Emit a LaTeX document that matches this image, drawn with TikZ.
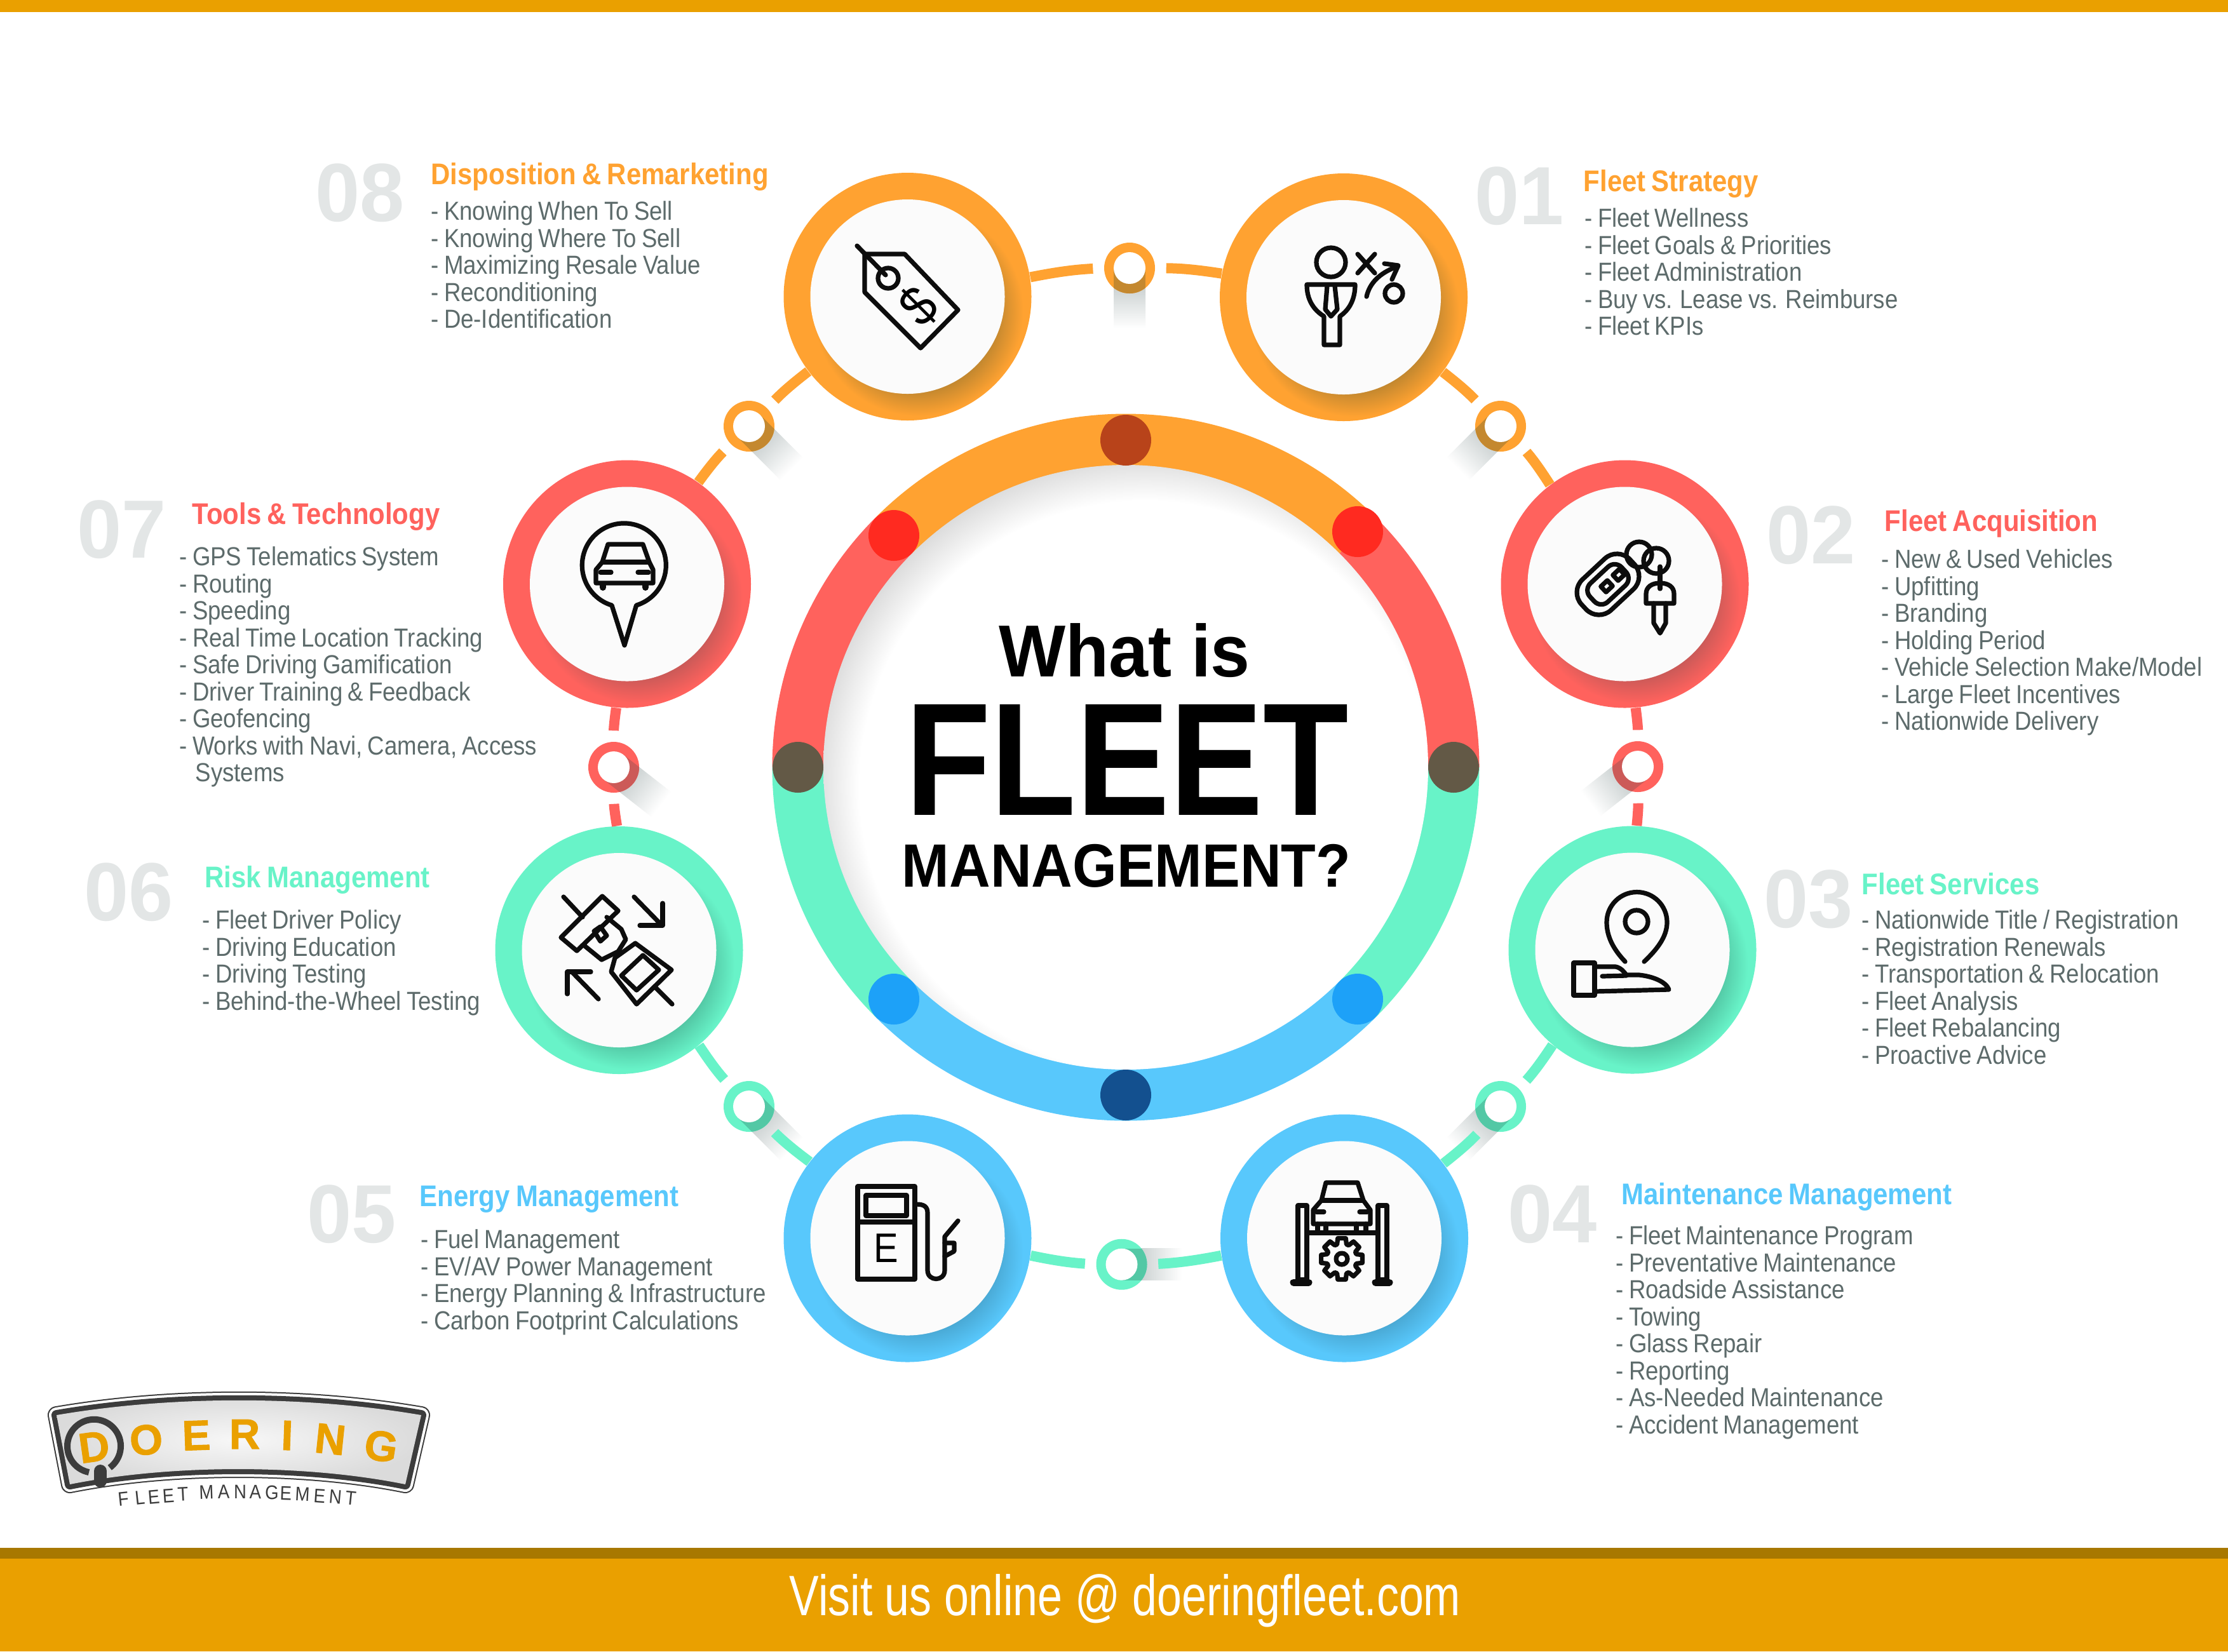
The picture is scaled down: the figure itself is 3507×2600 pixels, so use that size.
\documentclass[tikz,border=0pt]{standalone}
\usepackage{fontspec}
\setmainfont{Liberation Sans}[FakeStretch=0.89,WordSpace=0.8]
\newfontfamily\numfont{Liberation Sans}[FakeStretch=0.97]
\newfontfamily\whatfont{Liberation Sans}[FakeStretch=0.96]
\newfontfamily\fleetfont{Liberation Sans}[FakeStretch=0.87]
\newfontfamily\mgmtfont{Liberation Sans}[FakeStretch=0.93]
\newfontfamily\visitfont{Liberation Sans}[FakeStretch=0.78]
\newfontfamily\logofont{Liberation Sans}[FakeBold=1.5]
\usetikzlibrary{arrows.meta}

\definecolor{bandgold}{HTML}{EAA000}
\definecolor{banddark}{HTML}{A87800}
\definecolor{ringorange}{HTML}{FFA231}
\definecolor{ringcoral}{HTML}{FF625D}
\definecolor{ringteal}{HTML}{68F3C8}
\definecolor{ringblue}{HTML}{58C8FC}
\definecolor{darkorange}{HTML}{C4882F}
\definecolor{darkcoral}{HTML}{CC5A58}
\definecolor{darkteal}{HTML}{53C8A5}
\definecolor{darkblue}{HTML}{4AAAD6}
\definecolor{listgray}{HTML}{5D6B6B}
\definecolor{numgray}{HTML}{E3E6E6}
\definecolor{shadowgray}{HTML}{B4BDBD}
\definecolor{diskwhite}{HTML}{FBFBFB}
\definecolor{logodark}{HTML}{3C3C3C}

\pgfdeclareradialshading{hubshade}{\pgfpoint{0bp}{0bp}}{color(0bp)=(white);color(21.2bp)=(white);color(25bp)=(black!16);color(50bp)=(black!16)}
\pgfdeclareradialshading[ringc,ringd]{castshade}{\pgfpoint{0bp}{0bp}}{color(0bp)=(ringd);color(19bp)=(ringd);color(25bp)=(ringc);color(50bp)=(ringc)}
\colorlet{ringc}{ringorange}
\colorlet{ringd}{darkorange}

\tikzset{
  ringnode/.style={circle, minimum size=39mm, inner sep=0pt},
  linknode/.style={circle, minimum size=8mm, inner sep=0pt},
  linkshadow/.style={anchor=west, minimum width=9.5mm, minimum height=5mm, inner sep=0pt},
  linkline/.style={line width=1.6mm, bend left=4},
  hubarc/.style={line width=8.1mm},
  iconline/.style={line width=0.72mm, line cap=round, line join=round, black!95},
  numlabel/.style={anchor=west, inner sep=0pt, numgray, font=\numfont\fontsize{37}{37}\selectfont\bfseries},
  headlabel/.style={anchor=west, inner sep=0pt, font=\fontsize{13.4}{14}\selectfont\bfseries},
  listlabel/.style={anchor=north west, inner sep=0pt, align=left, listgray, font=\fontsize{11.7}{12.1}\selectfont},
  logoletter/.style={inner sep=0pt, bandgold, font=\logofont\fontsize{19}{19}\selectfont\bfseries},
}

\begin{document}
\begin{tikzpicture}[x=0.1mm,y=-0.1mm]
  \useasboundingbox (0,0) rectangle (3507,2600);
  \fill[white] (0,0) rectangle (3507,2600);

  % Bands
  \fill[bandgold] (0,0) rectangle (3507,19);
  \fill[banddark] (0,2437) rectangle (3507,2454);
  \fill[bandgold] (0,2454) rectangle (3507,2600);
  \node (visit) [anchor=base, white, inner sep=0pt, font=\visitfont\fontsize{25.5}{26}\selectfont] at (1771,2543) {Visit us online @ doeringfleet.com};

  % Hub ring
  \draw[hubarc, ringorange] (1772,1208) ++(225:516) arc (225:315:516);
  \draw[hubarc, ringcoral] (1772,1208) ++(315:516) arc (315:360:516);
  \draw[hubarc, ringteal] (1772,1208) ++(0:516) arc (0:45:516);
  \draw[hubarc, ringblue] (1772,1208) ++(45:516) arc (45:135:516);
  \draw[hubarc, ringteal] (1772,1208) ++(135:516) arc (135:180:516);
  \draw[hubarc, ringcoral] (1772,1208) ++(180:516) arc (180:225:516);
  \begin{scope}
    \clip (1772,1208) circle (476);
    \shade[shading=hubshade] (1802,1238) circle (530);
  \end{scope}
  \foreach \px/\py/\col in {1772/693/B8431A, 1407/843/FF2A20, 2137/837/FF2A20, 1256/1208/635946,
      2288/1208/635946, 1407/1573/1DA1F8, 2137/1573/1DA1F8, 1772/1724/13508F} {
    \definecolor{dotc}{HTML}{\col}
    \fill[dotc] (\px,\py) circle (40);
  }

  % Title
  \node (whatis) [anchor=base, inner sep=0pt, font=\whatfont\fontsize{33}{33}\selectfont\bfseries] at (1770,1065) {What is};
  \node (fleet) [anchor=base, inner sep=0pt, font=\fleetfont\fontsize{72}{72}\selectfont\bfseries] at (1774,1283) {FLEET};
  \node (manage) [anchor=base, inner sep=0pt, font=\mgmtfont\fontsize{27.4}{28}\selectfont\bfseries] at (1773,1396) {MANAGEMENT?};

  % Small link rings with their cast shadows
  \foreach \nm/\px/\py/\ang/\col/\dk in {
      81/1778/422/-90/ringorange/darkorange, 12/2362/671/-135/ringorange/darkorange,
      23/2578/1207/-142/ringcoral/darkcoral, 34/2362/1742/-135/ringteal/darkteal,
      45/1765.5/1990.7/0/ringteal/darkteal, 56/1179/1742/-45/ringteal/darkteal,
      67/966/1208/-38/ringcoral/darkcoral, 78/1179/671/-45/ringorange/darkorange} {
    \begin{scope}[transform canvas={rotate around={\ang:(\px,\py)}}]
      \shade[left color=shadowgray, right color=white] (\px,\py-25) rectangle (\px+95,\py+25);
    \end{scope}
    \node (link\nm) [linknode, fill=\col] at (\px,\py) {};
    \begin{scope}
      \clip (\px,\py) circle (40);
      \node (dark\nm) [linkshadow, rotate=\ang, fill=\dk] at (\px,\py) {};
    \end{scope}
    \fill[white] (\px,\py) circle (25);
  }

  % Big rings
  \foreach \nm/\px/\py/\col/\dk in {
      01/2115/468/ringorange/darkorange, 02/2557.5/919.5/ringcoral/darkcoral,
      03/2569.5/1495.5/ringteal/darkteal, 04/2116/1949.5/ringblue/darkblue,
      05/1428.5/1949.5/ringblue/darkblue, 06/974.5/1496/ringteal/darkteal,
      07/987/919.5/ringcoral/darkcoral, 08/1428.5/467/ringorange/darkorange} {
    \colorlet{ringc}{\col}
    \colorlet{ringd}{\dk}
    \node (ring\nm) [ringnode, fill=\col] at (\px,\py) {};
    \begin{scope}
      \clip (\px,\py) circle (195);
      \shade[shading=castshade] (\px+17,\py+23) circle (165);
    \end{scope}
    \fill[diskwhite] (\px,\py) circle (153);
  }

  % Connectors
  \foreach \src/\sa/\dst/\da/\col in {08/9/81/180/ringorange, 01/-37/12/134/ringorange, 02/-85/23/90/ringcoral,
      03/230/34/44/ringteal, 04/188/45/0/ringteal, 05/142.5/56/-46/ringteal, 06/91.3/67/-90/ringcoral,
      07/55/78/-136/ringorange} {
    \draw[linkline, \col, shorten >=1.7mm] (ring\src.\sa) to (link\dst.\da);
  }
  \foreach \src/\sa/\dst/\da/\col in {81/0/01/169.5/ringorange, 12/-43/02/127/ringorange, 23/-90/03/88.7/ringcoral,
      34/-129/04/37.6/ringteal, 45/180/05/-8.4/ringteal, 56/133/06/-50/ringteal, 67/90/07/-95.3/ringcoral,
      78/45/08/217.7/ringorange} {
    \draw[linkline, \col, shorten <=1.7mm] (link\src.\sa) to (ring\dst.\da);
  }

  % Icon 01: person and play
  \draw[iconline] (2095,413) circle (23);
  \draw[iconline] (2057,448) -- (2133,448) .. controls (2133,470) and (2125,487) .. (2109,498) -- (2109,543) -- (2084,543) -- (2084,498) .. controls (2066,487) and (2057,470) .. (2057,448);
  \draw[iconline] (2089,450) -- (2086,487) -- (2095,498) -- (2105,487) -- (2101,450);
  \draw[iconline] (2137,400) -- (2164,430) (2164,400) -- (2137,430);
  \draw[iconline] (2151,467) .. controls (2156,445) and (2172,430) .. (2198,420);
  \draw[iconline] (2179,415) -- (2201,418) -- (2191,440);
  \draw[iconline] (2194,462) circle (14);

  % Icon 02: car keys
  \draw[iconline, rotate around={43:(2531,920)}, rounded corners=2.8mm] (2479,887) rectangle (2583,953);
  \draw[iconline, rotate around={43:(2531,920)}, rounded corners=1.5mm] (2497,900) rectangle (2565,940);
  \draw[iconline, rotate around={43:(2529,923)}] (2522,917) rectangle (2536,929);
  \draw[iconline, rotate around={43:(2548,905)}] (2541,899) rectangle (2555,911);
  \draw[iconline] (2580,873) circle (20);
  \draw[iconline] (2607,883) circle (20);
  \draw[iconline] (2591,950) -- (2591,935) .. controls (2591,924) and (2600,918) .. (2613,918) .. controls (2626,918) and (2635,924) .. (2635,935) -- (2635,950) -- cycle;
  \draw[iconline] (2603,950) -- (2603,981) -- (2613,997) -- (2622,981) -- (2622,950);
  \draw[iconline] (2613,892) -- (2613,927);

  % Icon 03: location pin and hand
  \draw[iconline] (2558,1514) .. controls (2540,1495) and (2529,1475) .. (2529,1452) arc (180:360:47.5) .. controls (2624,1475) and (2608,1495) .. (2588,1514);
  \draw[iconline] (2576,1451) circle (18);
  \draw[iconline] (2477,1516) rectangle (2510,1567);
  \draw[iconline] (2510,1522) -- (2543,1522) .. controls (2552,1524) and (2556,1530) .. (2560,1535) -- (2580,1535) .. controls (2600,1537) and (2622,1545) .. (2627,1558) -- (2510,1561);
  \draw[iconline] (2522,1537) -- (2560,1536);

  % Icon 04: vehicle lift
  \draw[iconline] (2043,1898) rectangle (2057,2015);
  \draw[iconline] (2169,1898) rectangle (2183,2015);
  \draw[iconline, line width=1.1mm] (2036,2019) -- (2060,2019);
  \draw[iconline, line width=1.1mm] (2165,2019) -- (2187,2019);
  \draw[iconline] (2057,1941) -- (2169,1941);
  \draw[iconline] (2087,1862) -- (2137,1862) -- (2146,1890) -- (2157,1905) -- (2157,1927) -- (2067,1927) -- (2067,1905) -- (2080,1890) -- cycle;
  \draw[iconline] (2080,1890) -- (2146,1890);
  \draw[iconline] (2072,1908) -- (2084,1908) (2140,1908) -- (2152,1908);
  \draw[iconline] (2074,1927) -- (2074,1941) (2087,1927) -- (2087,1941) (2135,1927) -- (2135,1941) (2150,1927) -- (2150,1941);
  \begin{scope}[shift={(2112,1982)}]
    \draw[iconline] (-11:33) \foreach \k in {0,45,...,315} { -- (\k-11:33) -- (\k+11:33) -- (\k+18:24) -- (\k+27:24) } -- cycle;
    \draw[iconline] (0,0) circle (9);
  \end{scope}

  % Icon 05: fuel pump
  \draw[iconline] (1350,1868) rectangle (1440,2014);
  \draw[iconline] (1350,1924) -- (1440,1924);
  \draw[iconline] (1363,1882) rectangle (1427,1914);
  \node (pumpE) [inner sep=0pt, font=\fontsize{18.5}{19}\selectfont] at (1395,1965) {E};
  \draw[iconline] (1442,1896) .. controls (1455,1896) and (1460,1900) .. (1460,1910) -- (1460,2000) .. controls (1460,2018) and (1487,2018) .. (1487,2000) -- (1487,1947) -- (1508,1922);
  \draw[iconline] (1487,1957) -- (1502,1957) -- (1502,1970) -- (1487,1978);

  % Icon 06: two plugs and arrows
  \draw[iconline] (887,1412) -- (917,1444);
  \draw[iconline] (883,1476) -- (948,1411) -- (973,1434) -- (908,1497) -- cycle;
  \draw[iconline] (955,1444) -- (978,1463) -- (985,1479) -- (973,1498) -- (947,1511) -- (920,1489);
  \draw[iconline] (935,1466) -- (945,1459) -- (955,1473) -- (945,1482) -- cycle;
  \draw[iconline] (998,1412) -- (1038,1453);
  \draw[iconline] (1043,1422) -- (1043,1457) -- (1007,1457);
  \draw[iconline] (962,1530) -- (968,1508) -- (1000,1485) -- (1057,1527) -- (1002,1581) -- cycle;
  \draw[iconline] (978,1536) -- (1012,1504) -- (1037,1527) -- (1002,1559) -- cycle;
  \draw[iconline] (1032,1555) -- (1058,1581);
  \draw[iconline] (942,1573) -- (900,1530);
  \draw[iconline] (930,1530) -- (893,1530) -- (893,1565);

  % Icon 07: car in a pin
  \draw[iconline] (963,953) arc (107:433:66) -- (983,1016) -- cycle;
  \draw[iconline] (957,857) -- (1012,857) -- (1022,885) -- (1028,897) -- (1028,918) -- (938,918) -- (938,897) -- (948,885) -- cycle;
  \draw[iconline] (948,885) -- (1022,885);
  \draw[iconline] (945,901) -- (962,901) (1004,901) -- (1021,901);
  \draw[iconline, line width=1mm] (949,921) -- (949,925) (1016,921) -- (1016,925);

  % Icon 08: price tag
  \draw[iconline] (1361,400) -- (1424,400) -- (1508,488) -- (1449,548) -- (1361,460) -- cycle;
  \draw[iconline] (1349,387) -- (1394,433);
  \draw[iconline] (1398,438) circle (16);
  \node (tagdollar) [inner sep=0pt, rotate=45, font=\fontsize{25}{25}\selectfont] at (1446,482) {\$};

  % Labels 01 to 08
  \node (num01) [numlabel] at (2321,309) {01};
  \node (head01) [headlabel, ringorange] at (2492,289) {Fleet Strategy};
  \node (list01) [listlabel] at (2494,327) {- Fleet Wellness\\- Fleet Goals \& Priorities\\- Fleet Administration\\- Buy vs. Lease vs. Reimburse\\- Fleet KPIs};

  \node (num02) [numlabel] at (2780,843) {02};
  \node (head02) [headlabel, ringcoral] at (2966,824) {Fleet Acquisition};
  \node (list02) [listlabel] at (2961,864) {- New \& Used Vehicles\\- Upfitting\\- Branding\\- Holding Period\\- Vehicle Selection Make/Model\\- Large Fleet Incentives\\- Nationwide Delivery};

  \node (num03) [numlabel] at (2776,1416) {03};
  \node (head03) [headlabel, ringteal] at (2930,1392) {Fleet Services};
  \node (list03) [listlabel] at (2930,1432) {- Nationwide Title / Registration\\- Registration Renewals\\- Transportation \& Relocation\\- Fleet Analysis\\- Fleet Rebalancing\\- Proactive Advice};

  \node (num04) [numlabel] at (2373,1912) {04};
  \node (head04) [headlabel, ringblue] at (2552,1884) {Maintenance Management};
  \node (list04) [listlabel] at (2543,1929) {- Fleet Maintenance Program\\- Preventative Maintenance\\- Roadside Assistance\\- Towing\\- Glass Repair\\- Reporting\\- As-Needed Maintenance\\- Accident Management};

  \node (num05) [numlabel] at (483,1912) {05};
  \node (head05) [headlabel, ringblue] at (660,1888) {Energy Management};
  \node (list05) [listlabel] at (662,1935) {- Fuel Management\\- EV/AV Power Management\\- Energy Planning \& Infrastructure\\- Carbon Footprint Calculations};

  \node (num06) [numlabel] at (132,1405) {06};
  \node (head06) [headlabel, ringteal] at (322,1385) {Risk Management};
  \node (list06) [listlabel] at (318,1432) {- Fleet Driver Policy\\- Driving Education\\- Driving Testing\\- Behind-the-Wheel Testing};

  \node (num07) [numlabel] at (121,834) {07};
  \node (head07) [headlabel, ringcoral] at (302,813) {Tools \& Technology};
  \node (list07) [listlabel] at (282,860) {- GPS Telematics System\\- Routing\\- Speeding\\- Real Time Location Tracking\\- Safe Driving Gamification\\- Driver Training \& Feedback\\- Geofencing\\- Works with Navi, Camera, Access\\\hspace*{2.5mm}Systems};

  \node (num08) [numlabel] at (496,304) {08};
  \node (head08) [headlabel, ringorange] at (678,278) {Disposition \& Remarketing};
  \node (list08) [listlabel] at (678,316) {- Knowing When To Sell\\- Knowing Where To Sell\\- Maximizing Resale Value\\- Reconditioning\\- De-Identification};

  % Logo badge
  \def\badgepath{(89,2228) .. controls (270,2197) and (482,2197) .. (663,2228) -- (638,2337) .. controls (480,2305) and (270,2305) .. (110,2337) -- cycle}
  \draw[logodark, line width=2.8mm, line join=round] \badgepath;
  \draw[white, line width=2.4mm, line join=round] \badgepath;
  \draw[logodark, line width=1.6mm, line join=round] \badgepath;
  \shade[inner color=black!3, outer color=black!14] \badgepath;
  \draw[logodark, line width=1mm] (140,2318) arc (101:414:42);
  \draw[logodark, line width=2mm, line cap=round] (158,2316) -- (158,2332);
  \foreach \ch/\px/\py/\rr in {D/148/2278/8, O/230/2267/5, E/309/2260/2, R/385/2258/0, I/452/2260/-2, N/520/2266/-6, G/600/2277/-9} {
    \node (logo\ch) [logoletter, rotate=\rr] at (\px,\py) {\ch};
  }
  \foreach \ch/\px/\py/\rr [count=\n] in {F/194/2360/6, L/220/2358/6, E/242/2357/5, E/265/2355/4, T/288/2352/3,
      M/325/2349/2, A/352/2349/1, N/378/2349/0, A/402/2349/-1, G/428/2350/-1, E/450/2351/-2,
      M/476/2352/-3, E/503/2355/-4, N/528/2357/-5, T/552/2359/-6} {
    \node (sub\n) [inner sep=0pt, rotate=\rr, logodark, font=\fontsize{8.8}{9}\selectfont] at (\px,\py) {\ch};
  }
\end{tikzpicture}
\end{document}
